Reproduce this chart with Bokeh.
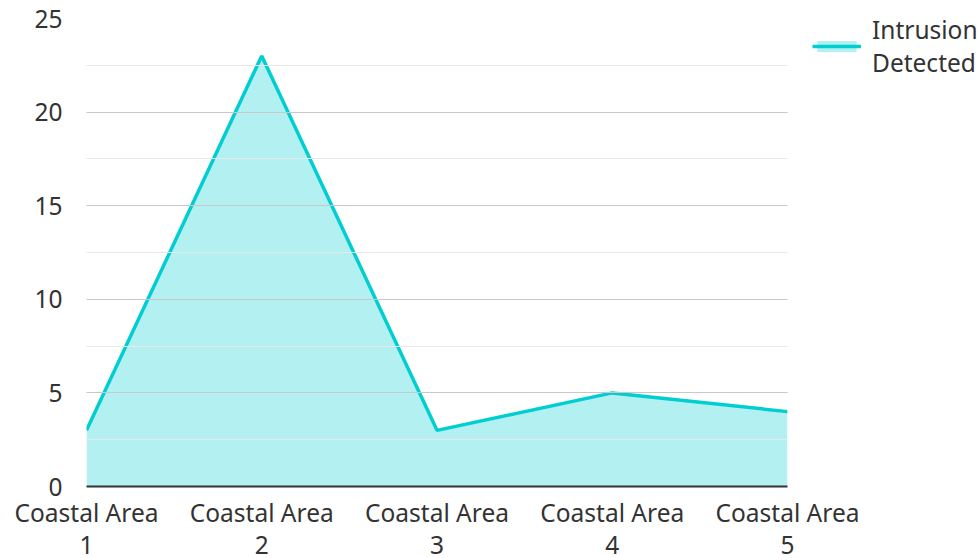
from bokeh.plotting import figure
from bokeh.models import FixedTicker, SingleIntervalTicker, Range1d, Legend, LegendItem, ColumnDataSource
from bokeh.embed import file_html
from bokeh.resources import INLINE

categories = ["Coastal Area\n1", "Coastal Area\n2", "Coastal Area\n3", "Coastal Area\n4", "Coastal Area\n5"]
intrusions = [3, 23, 3, 5, 4]
series_name = "Intrusion\nDetected"

xs = list(range(len(categories)))
src = ColumnDataSource(dict(x=xs, y=intrusions, y0=[0] * len(xs)))

FONT = "Noto Sans"
TXT = "#333333"
COL = "#00CED1"
FS = "24.5px"

p = figure(frame_width=701, frame_height=468, output_backend="svg", toolbar_location=None,
           x_range=Range1d(0, len(categories) - 1), y_range=Range1d(0, 25),
           min_border_left=86, min_border_right=10, min_border_top=18, min_border_bottom=72)
p.outline_line_color = None
p.background_fill_color = "white"

area = p.varea(x="x", y1="y0", y2="y", source=src, fill_color=COL, fill_alpha=0.3)
line = p.line(x="x", y="y", source=src, line_color=COL, line_width=3.5)

p.xaxis.ticker = FixedTicker(ticks=xs)
p.xaxis.major_label_overrides = {i: c for i, c in zip(xs, categories)}
p.xaxis.axis_line_color = "#333333"
p.xaxis.axis_line_width = 2
p.xaxis.major_tick_line_color = None
p.xaxis.minor_tick_line_color = None
p.xaxis.major_label_standoff = 3
p.xaxis.major_label_text_font = FONT
p.xaxis.major_label_text_font_size = FS
p.xaxis.major_label_text_color = TXT
p.xaxis.major_label_text_line_height = 0.97

p.yaxis.ticker = SingleIntervalTicker(interval=5, num_minor_ticks=2)
p.yaxis.axis_line_color = None
p.yaxis.major_tick_line_color = None
p.yaxis.minor_tick_line_color = None
p.yaxis.major_label_standoff = 18
p.yaxis.major_label_text_font = FONT
p.yaxis.major_label_text_font_size = FS
p.yaxis.major_label_text_color = TXT

p.xgrid.grid_line_color = None
p.ygrid.grid_line_color = "#c8c8c8"
p.ygrid.grid_line_width = 1
p.ygrid.minor_grid_line_color = "#e8e8e8"
p.ygrid.level = "overlay"

legend = Legend(items=[LegendItem(label=series_name, renderers=[area, line])],
                location=(25, 407), border_line_color=None, background_fill_alpha=0,
                glyph_width=49, glyph_height=14, label_standoff=11, padding=0, margin=0,
                label_text_font=FONT, label_text_font_size=FS, label_text_color=TXT,
                label_text_line_height=1.4)
p.add_layout(legend, "right")

open("out.html", "w").write(file_html(p, INLINE))
